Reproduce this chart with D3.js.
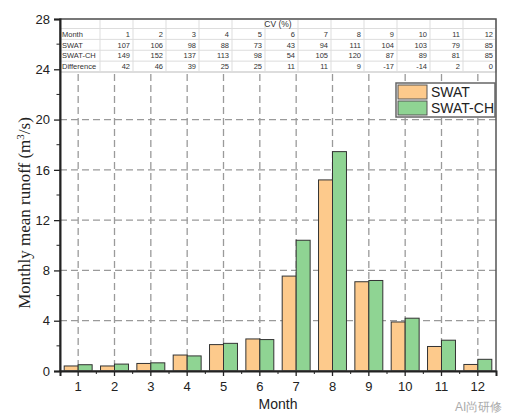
<!DOCTYPE html>
<html>
<head>
<meta charset="utf-8">
<script src="https://cdn.jsdelivr.net/npm/d3@7"></script>
<style>
  body { margin: 0; background: #fff; }
  svg { display: block; }
</style>
</head>
<body>
<div id="chart"></div>
<script>
// ---------------- data ----------------
var months = ["1", "2", "3", "4", "5", "6", "7", "8", "9", "10", "11", "12"];
var seriesNames = ["SWAT", "SWAT-CH"];
var swat   = [0.4, 0.4, 0.6, 1.27, 2.1, 2.55, 7.55, 15.2, 7.1, 3.9, 1.95, 0.52];
var swatCh = [0.5, 0.55, 0.65, 1.2, 2.2, 2.5, 10.4, 17.45, 7.2, 4.2, 2.45, 0.93];
var yTicks = [0, 4, 8, 12, 16, 20, 24, 28];

// CV table
var cvRowNames = ["Month", "SWAT", "SWAT-CH", "Difference"];
var cvSwat   = [107, 106, 98, 88, 73, 43, 94, 111, 104, 103, 79, 85];
var cvSwatCh = [149, 152, 137, 113, 98, 54, 105, 120, 87, 89, 81, 85];
var cvDiff   = [42, 46, 39, 25, 25, 11, 11, 9, -17, -14, 2, 0];

(function() {
    var width = 514, height = 417;
    var left = 60, right = 496, top = 19, bottom = 371;

    var colors = { "SWAT": "#fdca8c", "SWAT-CH": "#8fd493" };

    var svg = d3.select("#chart").append("svg")
        .attr("width", width)
        .attr("height", height)
        .style("font-family", "Arial, 'Liberation Sans', sans-serif");

    // scales
    var x = d3.scaleBand().domain(months).range([left, right]).padding(0);
    var xSub = d3.scaleBand().domain(seriesNames).range([0, x.bandwidth()])
        .paddingInner(0).paddingOuter(0.3);
    var y = d3.scaleLinear().domain([0, 28]).range([bottom, top]);

    // ---- dashed grid ----
    var grid = svg.append("g").attr("stroke", "#9a9a9a").attr("stroke-width", 1.3)
        .attr("stroke-dasharray", "7,4");
    grid.selectAll(".gx").data(months).enter().append("line")
        .attr("x1", function(d) { return x(d) + x.bandwidth() / 2; })
        .attr("x2", function(d) { return x(d) + x.bandwidth() / 2; })
        .attr("y1", top).attr("y2", bottom);
    grid.selectAll(".gy").data(yTicks.slice(1, -1)).enter().append("line")
        .attr("x1", left).attr("x2", right)
        .attr("y1", function(d) { return y(d); })
        .attr("y2", function(d) { return y(d); });

    // ---- bars ----
    var data = months.map(function(m, i) {
        return { month: m, values: [
            { key: "SWAT", value: swat[i] },
            { key: "SWAT-CH", value: swatCh[i] }
        ]};
    });

    var groups = svg.selectAll(".month").data(data).enter().append("g")
        .attr("transform", function(d) { return "translate(" + x(d.month) + ",0)"; });

    groups.selectAll("rect").data(function(d) { return d.values; }).enter().append("rect")
        .attr("x", function(d) { return xSub(d.key); })
        .attr("width", xSub.bandwidth())
        .attr("y", function(d) { return y(d.value); })
        .attr("height", function(d) { return y(0) - y(d.value); })
        .attr("fill", function(d) { return colors[d.key]; })
        .attr("stroke", "#333")
        .attr("stroke-width", 1);

    // ---- CV table ----
    var tableTop = top, headH = 9.5, tableBottom = 72;
    var colX = d3.scaleBand().domain(months).range([100, right]);
    var rowY = d3.scaleBand().domain(cvRowNames).range([tableTop + headH, tableBottom]);
    var table = svg.append("g").style("font-size", "7.5px").attr("fill", "#333");

    table.append("rect")
        .attr("x", left).attr("y", tableTop)
        .attr("width", right - left).attr("height", tableBottom - tableTop)
        .attr("fill", "#fff").attr("stroke", "#bbb").attr("stroke-width", 1);

    // cell lines
    table.selectAll(".rl").data(cvRowNames).enter().append("line")
        .attr("x1", left).attr("x2", right)
        .attr("y1", function(d) { return rowY(d); })
        .attr("y2", function(d) { return rowY(d); })
        .attr("stroke", "#ddd");
    table.selectAll(".cl").data(months).enter().append("line")
        .attr("x1", function(d) { return colX(d); })
        .attr("x2", function(d) { return colX(d); })
        .attr("y1", tableTop).attr("y2", tableBottom)
        .attr("stroke", "#ddd");

    table.append("text")
        .attr("x", (left + right) / 2).attr("y", tableTop + headH - 1.5)
        .attr("text-anchor", "middle")
        .style("font-size", "8.5px")
        .text("CV (%)");

    var rows = [months, cvSwat, cvSwatCh, cvDiff];
    cvRowNames.forEach(function(name, r) {
        var yy = rowY(name) + rowY.bandwidth() / 2 + 2.7;
        table.append("text").attr("x", left + 2).attr("y", yy).text(name);
        table.selectAll(".c" + r).data(rows[r]).enter().append("text")
            .attr("x", function(d, i) { return colX(months[i]) + colX.bandwidth() - 3; })
            .attr("y", yy)
            .attr("text-anchor", "end")
            .text(function(d) { return d; });
    });

    // ---- frame & axes ----
    svg.append("rect")
        .attr("x", left).attr("y", top)
        .attr("width", right - left).attr("height", bottom - top)
        .attr("fill", "none").attr("stroke", "#555").attr("stroke-width", 1.5);

    var yAxis = svg.append("g")
        .attr("transform", "translate(" + left + ",0)")
        .call(d3.axisLeft(y).tickValues(yTicks).tickSize(6).tickPadding(4));
    yAxis.selectAll("text").style("font-size", "13px").attr("fill", "#222");
    // minor y ticks
    yAxis.selectAll(".minor").data(d3.range(2, 28, 4)).enter().append("line")
        .attr("x1", 0).attr("x2", -3.5)
        .attr("y1", function(d) { return y(d); })
        .attr("y2", function(d) { return y(d); })
        .attr("stroke", "#222");

    var xAxis = svg.append("g")
        .attr("transform", "translate(0," + bottom + ")")
        .call(d3.axisBottom(x).tickSize(5).tickPadding(6));
    xAxis.selectAll("text").style("font-size", "13px").attr("fill", "#222");
    // minor x ticks on band edges
    xAxis.selectAll(".minor").data(months.slice(1)).enter().append("line")
        .attr("x1", function(d) { return x(d); })
        .attr("x2", function(d) { return x(d); })
        .attr("y1", 0).attr("y2", 3)
        .attr("stroke", "#222");

    [yAxis, xAxis].forEach(function(a) {
        a.select(".domain").attr("stroke", "#222").attr("stroke-width", 2);
        a.selectAll(".tick line").attr("stroke", "#222").attr("stroke-width", 1.3);
    });

    // axis titles
    svg.append("text")
        .attr("x", (left + right) / 2).attr("y", 409)
        .attr("text-anchor", "middle")
        .style("font-size", "14px").attr("fill", "#222")
        .text("Month");

    var yTitle = svg.append("text")
        .attr("transform", "translate(30,213) rotate(-90)")
        .attr("text-anchor", "middle")
        .style("font-family", "'Liberation Serif', 'Times New Roman', serif")
        .style("font-size", "17px").attr("fill", "#222");
    yTitle.append("tspan").text("Monthly mean runoff (m");
    yTitle.append("tspan").attr("dy", -6).style("font-size", "11px").text("3");
    yTitle.append("tspan").attr("dy", 6).text("/s)");

    // ---- legend ----
    var legend = svg.append("g").attr("transform", "translate(396,83)");
    legend.append("rect")
        .attr("width", 99).attr("height", 34)
        .attr("fill", "#fff").attr("stroke", "#666").attr("stroke-width", 1.5);
    seriesNames.forEach(function(name, i) {
        legend.append("rect")
            .attr("x", 2).attr("y", 2 + i * 16)
            .attr("width", 29).attr("height", 14)
            .attr("fill", colors[name]).attr("stroke", "#555").attr("stroke-width", 1);
        legend.append("text")
            .attr("x", 35).attr("y", 14 + i * 16)
            .style("font-size", "14px").attr("fill", "#222")
            .text(name);
    });

    // watermark
    svg.append("text")
        .attr("x", 455).attr("y", 411)
        .style("font-size", "12px").attr("fill", "#aaa")
        .text("AI尚研修");
})();
</script>
</body>
</html>
